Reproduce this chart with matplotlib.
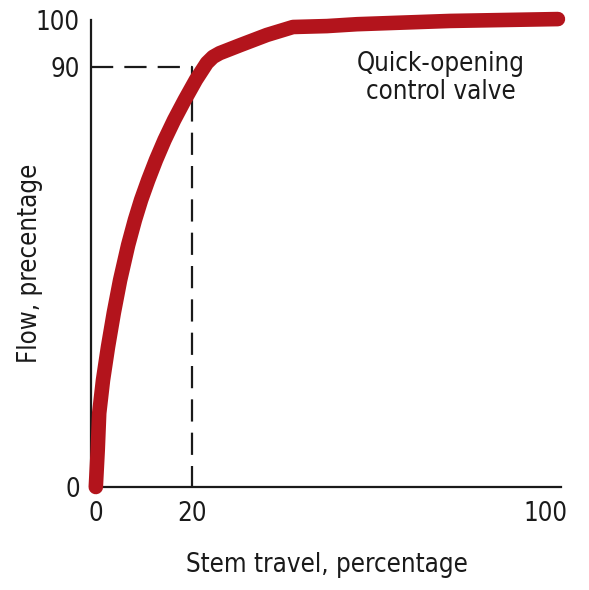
import numpy as np
import matplotlib.pyplot as plt
from matplotlib import font_manager as fm

# look for a narrow face, the reference uses a condensed sans
narrow = [f for f in fm.fontManager.ttflist
          if ('Narrow' in f.name or 'Condensed' in f.name
              or f.stretch in ('condensed', 'semi-condensed'))
          and f.style == 'normal' and f.weight in (400, 'normal', 'regular')]
if narrow:
    plt.rcParams['font.family'] = [narrow[0].name, 'DejaVu Sans']
    plt.rcParams['font.stretch'] = narrow[0].stretch
    fs = 18.5
else:
    plt.rcParams['font.family'] = ['Roboto', 'DejaVu Sans']
    fs = 17

# curve (stem travel %, flow %)
travel = [0, 0.4, 0.71, 1.50, 2.54, 3.75, 5.06, 6.73, 8.15, 9.44, 10.90, 12.52, 14.31,
          16.31, 18.52, 20.93, 23.4, 24.8, 26.3, 30.9, 37.0, 42.9, 50.6, 57.4, 78.5, 102.9]
flow = [0, 7.9, 15.8, 22.9, 30.0, 37.3, 44.3, 51.8, 57.2, 61.5, 65.7, 70.0, 74.3,
        78.6, 82.9, 87.2, 90.8, 92.1, 92.9, 94.6, 96.8, 98.5, 98.7, 99.1, 99.8, 100.2]

x_ticks = [0, 20, 100]
y_ticks = [0, 90, 100]
mark_x, mark_y = 20, 90


# the drawing stretches the first 20 % of travel
def fwd(x):
    x = np.asarray(x, dtype=float)
    return np.where(x <= 20, x * 4.8, 96 + (x - 20) * 4.4125)


def inv(y):
    y = np.asarray(y, dtype=float)
    return np.where(y <= 96, y / 4.8, 20 + (y - 96) / 4.4125)


fig = plt.figure(figsize=(5.89, 5.9), dpi=100)
ax = fig.add_axes([91 / 589, 1 - 487 / 590, (561 - 91) / 589, (487 - 20) / 590])
ax.set_xscale('function', functions=(fwd, inv))
ax.set_xlim(-1, 103.6)
ax.set_ylim(0, 100)

ax.plot([ax.get_xlim()[0], mark_x, mark_x], [mark_y, mark_y, 0], color='#1a1a1a',
        lw=1.6, dashes=(10, 5), zorder=2)
ax.plot(travel, flow, color='#b3141c', lw=10.5, solid_capstyle='round',
        solid_joinstyle='round', clip_on=False, zorder=3)

for s in ['top', 'right']:
    ax.spines[s].set_visible(False)
for s in ['left', 'bottom']:
    ax.spines[s].set_linewidth(1.6)
    ax.spines[s].set_color('#1a1a1a')

ax.set_xticks(x_ticks)
ax.set_yticks(y_ticks)
ax.set_xticklabels([str(v) for v in x_ticks])
ax.set_yticklabels([str(v) for v in y_ticks])
ax.tick_params(length=0, labelsize=fs, colors='#1a1a1a')
ax.tick_params(axis='x', pad=10)
ax.tick_params(axis='y', pad=8)
ax.minorticks_off()

ax.set_xlabel('Stem travel, percentage', fontsize=fs, color='#1a1a1a', va='center')
ax.xaxis.set_label_coords(0.502, -0.167)
ax.set_ylabel('Flow, precentage', fontsize=fs, color='#1a1a1a', va='center')
ax.yaxis.set_label_coords(-0.13, 0.48)

ax.text(0.745, 0.875, 'Quick-opening\ncontrol valve', transform=ax.transAxes,
        ha='center', va='center', fontsize=fs, color='#1a1a1a', linespacing=1.1)

fig.savefig('out.png', dpi=100)
